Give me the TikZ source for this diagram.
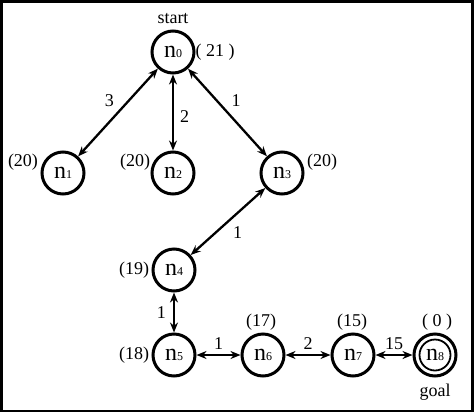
\documentclass[tikz,border=0pt]{standalone}
\usepackage{fontspec}
\setmainfont{Liberation Serif}
\usetikzlibrary{arrows.meta,positioning}

\newcommand{\sn}[1]{n{\fontsize{12}{12}\selectfont #1}}

\begin{document}
\begin{tikzpicture}[x=1pt, y=-1pt,
    state/.style={circle, draw, line width=3pt, minimum size=42pt, inner sep=0pt, font=\fontsize{24}{24}\selectfont},
    heur/.style={inner sep=0pt, font=\fontsize{18}{18}\selectfont},
    cost/.style={inner sep=2pt, font=\fontsize{18}{18}\selectfont},
    link/.style={{Stealth[length=10pt,width=8pt]}-{Stealth[length=10pt,width=8pt]}, line width=2.3pt}
  ]
    \useasboundingbox (0,0) rectangle (474,413);
    \draw[line width=2.8pt] (1.4,1.4) rectangle (472.6,411);

    \node[state] (n0) at (173,52) {\sn{0}};
    \node[state] (n1) at (63,173) {\sn{1}};
    \node[state] (n2) at (173,173) {\sn{2}};
    \node[state] (n3) at (282,173) {\sn{3}};
    \node[state] (n4) at (174,270) {\sn{4}};
    \node[state] (n5) at (174,355) {\sn{5}};
    \node[state] (n6) at (263,355) {\sn{6}};
    \node[state] (n7) at (353,355) {\sn{7}};
    \node[state] (n8) at (435,355) {\sn{8}};
    \draw[line width=1.8pt] (n8.center) circle (15.5pt);

    \node[heur, above=6pt of n0] (start) {start};
    \node[heur, below=6pt of n8] (goal) {goal};

    \node[heur] (h0) at (215,52) {( 21 )};
    \node[heur] (h1) at (23,162) {(20)};
    \node[heur] (h2) at (135,162) {(20)};
    \node[heur] (h3) at (322,162) {(20)};
    \node[heur] (h4) at (134,270) {(19)};
    \node[heur] (h5) at (134,355) {(18)};
    \node[heur] (h6) at (261,322) {(17)};
    \node[heur] (h7) at (352,322) {(15)};
    \node[heur] (h8) at (437,322) {( 0 )};

    \draw[link] (n0) -- node[cost, above left=3pt and 1pt] {3} (n1);
    \draw[link] (n0) -- node[cost, right=4pt, pos=0.55] {2} (n2);
    \draw[link] (n0) -- node[cost, above right=3pt and 1pt] {1} (n3);
    \draw[link] (n3) -- node[cost, below right=2pt and 2pt] {1} (n4);
    \draw[link] (n4) -- node[cost, left=5pt] {1} (n5);
    \draw[link] (n5) -- node[cost, above=2pt] {1} (n6);
    \draw[link] (n6) -- node[cost, above=2pt] {2} (n7);
    \draw[link] (n7) -- node[cost, above=2pt] {15} (n8);
\end{tikzpicture}
\end{document}
